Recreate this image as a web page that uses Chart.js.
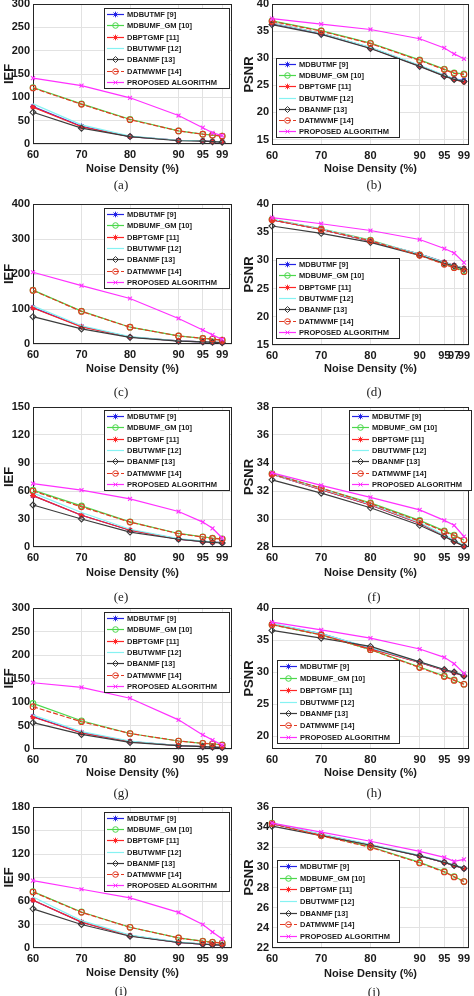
<!DOCTYPE html>
<html>
<head>
<meta charset="utf-8">
<script src="https://cdn.jsdelivr.net/npm/chart.js@4.4.1/dist/chart.umd.min.js"></script>
<style>
  html, body { margin: 0; padding: 0; background: #fff; }
  body { position: relative; width: 474px; height: 996px; overflow: hidden; }
  canvas { position: absolute; }
  .cap { position: absolute; font: 13px "Liberation Serif", "DejaVu Serif", serif; color: #222;
         transform: translate(-50%, -50%); white-space: nowrap; }
</style>
</head>
<body>
<script>
// x values (noise density, %)
const noiseDensity = [60, 70, 80, 90, 95, 97, 99];
const xTicks = [60, 70, 80, 90, 95, 99];
const xTicksD = [60, 70, 80, 90, 95, 97, 99];

const seriesNames = ['MDBUTMF [9]', 'MDBUMF_GM [10]', 'DBPTGMF [11]', 'DBUTWMF [12]',
                     'DBANMF [13]', 'DATMWMF [14]', 'PROPOSED ALGORITHM'];

// one row per series, same order as seriesNames
const iefA = [
  [80, 38, 16, 8, 7, 5, 5],
  [121, 86, 53, 28, 21, 19, 17],
  [79, 37, 16, 8, 7, 5, 5],
  [86, 41, 17, 8, 7, 5, 5],
  [68, 34, 16, 7, 6, 5, 4],
  [120, 85, 52, 28, 21, 19, 17],
  [141, 125, 99, 61, 35, 24, 18]
];
const psnrB = [
  [36.4, 34.5, 31.9, 28.6, 26.8, 26.2, 25.9],
  [36.9, 35.1, 32.8, 29.7, 28.0, 27.3, 27.1],
  [36.5, 34.6, 31.9, 28.6, 26.8, 26.1, 25.6],
  [36.5, 34.6, 32.0, 28.7, 26.9, 26.2, 25.8],
  [36.2, 34.4, 31.8, 28.5, 26.7, 26.1, 25.7],
  [36.8, 35.0, 32.7, 29.6, 27.9, 27.2, 27.0],
  [37.3, 36.3, 35.3, 33.6, 31.9, 30.8, 29.9]
];
const iefC = [
  [104, 50, 20, 9, 6, 5, 4],
  [154, 94, 48, 23, 16, 14, 11],
  [103, 49, 20, 9, 6, 5, 4],
  [109, 52, 21, 9, 6, 5, 4],
  [78, 43, 19, 8, 6, 5, 4],
  [153, 93, 48, 23, 16, 14, 11],
  [205, 167, 130, 73, 40, 26, 13]
];
const psnrD = [
  [37.2, 35.5, 33.4, 31.1, 29.7, 29.1, 28.6],
  [37.3, 35.6, 33.6, 31.0, 29.4, 28.8, 28.1],
  [37.2, 35.5, 33.4, 31.1, 29.7, 29.1, 28.6],
  [37.3, 35.6, 33.5, 31.1, 29.7, 29.1, 28.6],
  [36.1, 34.8, 33.2, 30.9, 29.5, 29.0, 28.4],
  [37.2, 35.5, 33.5, 30.9, 29.3, 28.7, 28.0],
  [37.6, 36.5, 35.3, 33.7, 32.1, 31.3, 29.6]
];
const iefE = [
  [55, 34, 18, 8.5, 6, 5.3, 4.6],
  [61, 44, 27, 14.5, 11, 9.5, 8.8],
  [55, 34, 18, 8.5, 6, 5.3, 4.6],
  [58, 37, 19, 9, 6.3, 5.5, 4.8],
  [45, 30, 16, 8.3, 5.7, 5, 4.3],
  [60, 43, 26.7, 14.2, 10.7, 9.2, 8.5],
  [68, 61, 51.5, 38, 26.7, 20, 9.6]
];
const psnrF = [
  [33.2, 32.1, 31.0, 29.7, 28.8, 28.45, 28.05],
  [33.25, 32.2, 31.15, 29.9, 29.15, 28.85, 28.5],
  [33.2, 32.1, 31.0, 29.7, 28.8, 28.4, 28.05],
  [33.2, 32.15, 31.05, 29.75, 28.85, 28.5, 28.1],
  [32.8, 31.85, 30.8, 29.55, 28.75, 28.4, 28.05],
  [33.2, 32.2, 31.1, 29.85, 29.1, 28.8, 28.5],
  [33.3, 32.4, 31.55, 30.65, 29.9, 29.55, 28.75]
];
const iefG = [
  [69, 35, 16, 7, 5, 4, 3.5],
  [97, 60, 33, 17, 12, 11, 9],
  [68, 34, 16, 7, 5, 4, 3.5],
  [72, 37, 17, 7.5, 5, 4, 3.5],
  [56, 31, 14, 7, 5, 4, 3],
  [90, 58, 33, 17, 12, 11, 8.5],
  [141, 131, 108, 62, 30, 19, 8.5]
];
const psnrH = [
  [37.5, 36.0, 33.7, 31.5, 30.3, 29.9, 29.4],
  [37.4, 35.8, 33.5, 30.8, 29.4, 28.8, 28.1],
  [37.5, 35.9, 33.6, 31.5, 30.3, 29.9, 29.4],
  [37.6, 36.0, 33.8, 31.6, 30.4, 30.0, 29.5],
  [36.5, 35.3, 34.0, 31.6, 30.4, 30.0, 29.4],
  [37.4, 35.8, 33.5, 30.7, 29.3, 28.7, 28.1],
  [37.8, 36.6, 35.3, 33.6, 32.3, 31.3, 29.8]
];
const iefI = [
  [61, 33, 15.7, 7.2, 5, 4.3, 3.8],
  [72, 46, 26.5, 13, 8.7, 7.4, 6.6],
  [61, 33, 15.7, 7.2, 5, 4.3, 3.8],
  [65, 35, 16.5, 7.5, 5.2, 4.5, 4],
  [50, 30, 15, 7, 4.8, 4.2, 3.7],
  [71.5, 45.5, 26.4, 12.8, 8.5, 7.2, 6.4],
  [86, 75, 64, 45.5, 30, 20.4, 11.5]
];
const psnrJ = [
  [34.35, 33.25, 32.25, 31.15, 30.5, 30.2, 29.9],
  [34.4, 33.2, 32.05, 30.5, 29.6, 29.1, 28.6],
  [34.35, 33.25, 32.25, 31.15, 30.5, 30.2, 29.9],
  [34.4, 33.3, 32.3, 31.2, 30.55, 30.25, 29.95],
  [34.1, 33.15, 32.2, 31.15, 30.5, 30.2, 29.9],
  [34.35, 33.15, 32.0, 30.45, 29.55, 29.05, 28.6],
  [34.4, 33.5, 32.6, 31.6, 31.0, 30.6, 30.8]
];

// y tick labels
const ticksA = [0, 50, 100, 150, 200, 250, 300];
const ticksB = [15, 20, 25, 30, 35, 40];
const ticksC = [0, 100, 200, 300, 400];
const ticksE = [0, 30, 60, 90, 120, 150];
const ticksF = [28, 30, 32, 34, 36, 38];
const ticksH = [20, 25, 30, 35, 40];
const ticksI = [0, 30, 60, 90, 120, 150, 180];
const ticksJ = [22, 24, 26, 28, 30, 32, 34, 36];

const FONT = '"Liberation Sans", Arial, Helvetica, sans-serif';
const INK = '#1a1a1a';

// series styling (MATLAB-ish line specs)
const lineColors = ['#2323e6', '#4cd84c', '#ff2626', '#86f2f2', '#3c3c3c', '#e23a22', '#ff30ff'];
const markers = ['star', 'circle', 'star', false, 'rectRot', 'circle', 'crossRot'];
const markerFill = [true, false, true, false, false, false, false];
const dashes = [[], [], [], [], [], [5, 2], []];

// layout of the ten panels (page pixels)
const panels = [
  { tag: '(a)', col: 0, yTitle: 'IEF',  values: iefA,  yMin: 0,  yMax: 300, yTicks: ticksA, x: xTicks,  top: 4,   bottom: 144, titleY: 169, capY: 185, legend: [104, 8, 125, 80] },
  { tag: '(b)', col: 1, yTitle: 'PSNR', values: psnrB, yMin: 14, yMax: 40,  yTicks: ticksB, x: xTicks,  top: 4,   bottom: 145, titleY: 169, capY: 185, legend: [276, 58, 123, 79] },
  { tag: '(c)', col: 0, yTitle: 'IEF',  values: iefC,  yMin: 0,  yMax: 400, yTicks: ticksC, x: xTicks,  top: 204, bottom: 344, titleY: 369, capY: 392, legend: [104, 208, 125, 80] },
  { tag: '(d)', col: 1, yTitle: 'PSNR', values: psnrD, yMin: 15, yMax: 40,  yTicks: ticksB, x: xTicksD, top: 204, bottom: 345, titleY: 369, capY: 392, legend: [276, 258, 123, 80] },
  { tag: '(e)', col: 0, yTitle: 'IEF',  values: iefE,  yMin: 0,  yMax: 150, yTicks: ticksE, x: xTicks,  top: 407, bottom: 547, titleY: 573, capY: 597, legend: [104, 410, 125, 80] },
  { tag: '(f)', col: 1, yTitle: 'PSNR', values: psnrF, yMin: 28, yMax: 38,  yTicks: ticksF, x: xTicks,  top: 407, bottom: 547, titleY: 573, capY: 597, legend: [349, 410, 122, 80] },
  { tag: '(g)', col: 0, yTitle: 'IEF',  values: iefG,  yMin: 0,  yMax: 300, yTicks: ticksA, x: xTicks,  top: 608, bottom: 749, titleY: 773, capY: 793, legend: [104, 612, 125, 80] },
  { tag: '(h)', col: 1, yTitle: 'PSNR', values: psnrH, yMin: 18, yMax: 40,  yTicks: ticksH, x: xTicks,  top: 608, bottom: 749, titleY: 773, capY: 793, legend: [277, 660, 122, 83] },
  { tag: '(i)', col: 0, yTitle: 'IEF',  values: iefI,  yMin: 0,  yMax: 180, yTicks: ticksI, x: xTicks,  top: 807, bottom: 948, titleY: 973, capY: 991, legend: [104, 812, 125, 79] },
  { tag: '(j)', col: 1, yTitle: 'PSNR', values: psnrJ, yMin: 22, yMax: 36,  yTicks: ticksJ, x: xTicks,  top: 807, bottom: 948, titleY: 974, capY: 992, legend: [277, 860, 122, 82] }
];

// axes box, drawn under the lines like MATLAB's default layer
const framePlugin = {
  id: 'frame',
  beforeDatasetsDraw(chart) {
    const { ctx, chartArea: a } = chart;
    ctx.save();
    ctx.strokeStyle = '#262626';
    ctx.lineWidth = 1;
    const l = Math.round(a.left) + 0.5, t = Math.round(a.top) + 0.5;
    ctx.strokeRect(l, t, Math.round(a.right) - Math.round(a.left) - 1, Math.round(a.bottom) - Math.round(a.top) - 1);
    ctx.restore();
  }
};

// boxed legend placed at a fixed spot inside the axes
const boxLegend = {
  id: 'boxLegend',
  afterDraw(chart, args, opts) {
    const { ctx } = chart;
    const [x, y, w, h] = opts.box;
    const sets = chart.data.datasets;
    const rowH = h / sets.length;
    ctx.save();
    ctx.fillStyle = '#fff';
    ctx.fillRect(x, y, w, h);
    ctx.strokeStyle = '#262626';
    ctx.lineWidth = 1;
    ctx.strokeRect(Math.round(x) + 0.5, Math.round(y) + 0.5, Math.round(w), Math.round(h));
    ctx.font = 'bold 7.5px ' + FONT;
    ctx.textBaseline = 'middle';
    sets.forEach((ds, i) => {
      const cy = Math.round(y + rowH * (i + 0.5)) + 0.5;
      ctx.strokeStyle = ds.borderColor;
      ctx.lineWidth = 1.2;
      ctx.setLineDash(ds.borderDash);
      ctx.beginPath();
      ctx.moveTo(x + 3, cy);
      ctx.lineTo(x + 20, cy);
      ctx.stroke();
      ctx.setLineDash([]);
      if (ds.pointStyle && Chart.helpers && Chart.helpers.drawPoint) {
        ctx.strokeStyle = ds.pointBorderColor;
        ctx.fillStyle = ds.pointBackgroundColor;
        ctx.lineWidth = 1;
        Chart.helpers.drawPoint(ctx, { pointStyle: ds.pointStyle, rotation: 0, radius: ds.pointRadius, borderWidth: 1 }, x + 11.5, cy);
      }
      ctx.fillStyle = INK;
      ctx.fillText(ds.label, x + 23, cy);
    });
    ctx.restore();
  }
};

panels.forEach(p => {
  const left = p.col === 0 ? 0 : 237;
  const width = 237;
  const cTop = p.top - 12;
  const height = 215;
  const plotLeft = p.col === 0 ? 33 : 272;
  const plotRight = p.col === 0 ? 234 : 474;
  const xMax = p.col === 0 ? 101 : 100;
  const xh = (p.titleY - p.bottom) + 6.6;

  const canvas = document.createElement('canvas');
  canvas.width = width;
  canvas.height = height;
  canvas.style.left = left + 'px';
  canvas.style.top = cTop + 'px';
  document.body.appendChild(canvas);

  const cap = document.createElement('div');
  cap.className = 'cap';
  cap.textContent = p.tag;
  cap.style.left = (p.col === 0 ? 121 : 374) + 'px';
  cap.style.top = p.capY + 'px';
  document.body.appendChild(cap);

  const datasets = seriesNames.map((name, i) => ({
    label: name,
    data: noiseDensity.map((x, j) => ({ x: x, y: p.values[i][j] })),
    borderColor: lineColors[i],
    borderWidth: 1.2,
    borderDash: dashes[i],
    pointStyle: markers[i],
    pointRadius: markers[i] ? (markers[i] === 'rectRot' ? 3 : 2.8) : 0,
    pointBorderColor: lineColors[i],
    pointBackgroundColor: markerFill[i] ? lineColors[i] : 'rgba(255,255,255,0)',
    pointBorderWidth: 1.1,
    tension: 0,
    clip: false,
    order: seriesNames.length - i
  }));

  new Chart(canvas, {
    type: 'line',
    data: { datasets },
    options: {
      responsive: false,
      animation: false,
      devicePixelRatio: 1,
      events: [],
      layout: {
        padding: {
          left: 0,
          top: p.top - cTop,
          right: left + width - plotRight,
          bottom: height - (p.bottom - cTop) - xh
        }
      },
      plugins: {
        legend: { display: false },
        tooltip: { enabled: false },
        boxLegend: { box: [p.legend[0] - left, p.legend[1] - cTop, p.legend[2], p.legend[3]] }
      },
      scales: {
        x: {
          type: 'linear',
          min: 60,
          max: xMax,
          afterBuildTicks: s => { s.ticks = p.x.map(v => ({ value: v })); },
          afterFit: s => { s.height = xh; s.paddingLeft = 0; s.paddingRight = 0; },
          border: { display: false },
          grid: { color: '#e2e2e2', lineWidth: 1, drawTicks: false },
          ticks: { color: INK, padding: 4, autoSkip: false, maxRotation: 0, font: { family: FONT, size: 11, weight: 'bold' } },
          title: { display: true, text: 'Noise Density (%)', color: INK, padding: 0, font: { family: FONT, size: 11, weight: 'bold' } }
        },
        y: {
          type: 'linear',
          min: p.yMin,
          max: p.yMax,
          afterBuildTicks: s => { s.ticks = p.yTicks.map(v => ({ value: v })); },
          afterFit: s => { s.width = plotLeft - left; s.paddingTop = 0; s.paddingBottom = 0; },
          border: { display: false },
          grid: { color: '#e2e2e2', lineWidth: 1, drawTicks: false },
          ticks: { color: INK, padding: 3, font: { family: FONT, size: 11, weight: 'bold' } },
          title: { display: true, text: p.yTitle, color: INK, padding: { top: p.col === 0 ? 2 : 5, bottom: 0 },
                   font: { family: FONT, size: 13, weight: 'bold' } }
        }
      }
    },
    plugins: [framePlugin, boxLegend]
  });
});
</script>
</body>
</html>
